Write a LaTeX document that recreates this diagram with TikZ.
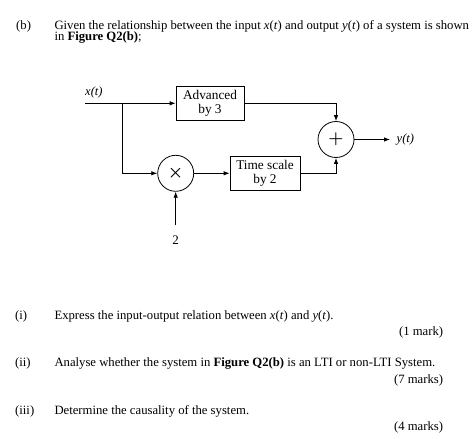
\documentclass[tikz,border=0pt]{standalone}
\usepackage{fontspec}
\setmainfont{Liberation Serif}
\usetikzlibrary{arrows.meta}

\begin{document}
\begin{tikzpicture}[
  x=1pt,y=-1pt,
  sig/.style={-{Latex[length=6pt,width=4.5pt]},draw=black,line width=0.8pt},
  block/.style={draw=black,line width=0.8pt,align=center,inner sep=1pt,
    minimum height=34pt,font=\fontsize{13.3}{13.3}\selectfont},
  junction/.style={draw=black,circle,line width=0.8pt,minimum size=36pt,inner sep=0pt,
    font=\fontsize{17}{17}\selectfont\boldmath},
  label/.style={inner sep=0pt,font=\fontsize{12.5}{13}\selectfont\itshape},
  item/.style={anchor=base west,inner sep=0pt,font=\fontsize{12.7}{13}\selectfont},
  marks/.style={anchor=base east,inner sep=0pt,font=\fontsize{12.7}{13}\selectfont}
]
\useasboundingbox (0,0) rectangle (474,439);

% question header
\node[item] (b-tag) at (16,29) {(b)};
\node[item] (b-line1) at (54.3,29) {Given the relationship between the input \textit{x}(\textit{t}) and output \textit{y}(\textit{t}) of a system is shown};
\node[item] (b-line2) at (54.3,40.7) {in \textbf{Figure Q2(b)};};

% block diagram
\coordinate (xin) at (85,103.3);
\coordinate (split) at (122.7,103.3);
\node[label,anchor=base west] (xlabel) at (85,95) {x(t)};
\node[block,minimum width=68pt] (advance) at (210,103.3) {Advanced\\by 3};
\node[junction] (sum) at (336,139.5) {$+$};
\coordinate (yout) at (390,139.5);
\node[label,anchor=west] (ylabel) at (396.5,139.5) {y(t)};
\node[junction] (mult) at (175.7,173.3) {$\times$};
\node[block,minimum width=70pt] (tscale) at (265,173.3) {Time scale\\by 2};
\coordinate (gain) at (175.7,225);
\node[inner sep=0pt,font=\fontsize{13}{13}\selectfont] (two) at (175.7,240) {2};

\draw[sig] (xin) -- (advance.west |- xin);
\draw[sig] (advance.east |- xin) -| (sum.north);
\draw[sig] (sum.east) -- (yout);
\draw[sig] (split) |- (mult.west);
\draw[sig] (mult.east) -- (tscale.west |- mult);
\draw[sig] (tscale.east |- mult) -| (sum.south);
\draw[sig] (gain) -- (mult.south);

% sub-questions
\node[item] (i-tag) at (15,319.3) {(i)};
\node[item] (i-text) at (54.3,319.3) {Express the input-output relation between \textit{x}(\textit{t}) and \textit{y}(\textit{t}).};
\node[marks] (i-marks) at (443.3,335) {(1 mark)};
\node[item] (ii-tag) at (15,366) {(ii)};
\node[item] (ii-text) at (54.3,366) {Analyse whether the system in \textbf{Figure Q2(b)} is an LTI or non-LTI System.};
\node[marks] (ii-marks) at (443.3,383.3) {(7 marks)};
\node[item] (iii-tag) at (15,414) {(iii)};
\node[item] (iii-text) at (54.3,414) {Determine the causality of the system.};
\node[marks] (iii-marks) at (443.3,430.7) {(4 marks)};
\end{tikzpicture}
\end{document}
